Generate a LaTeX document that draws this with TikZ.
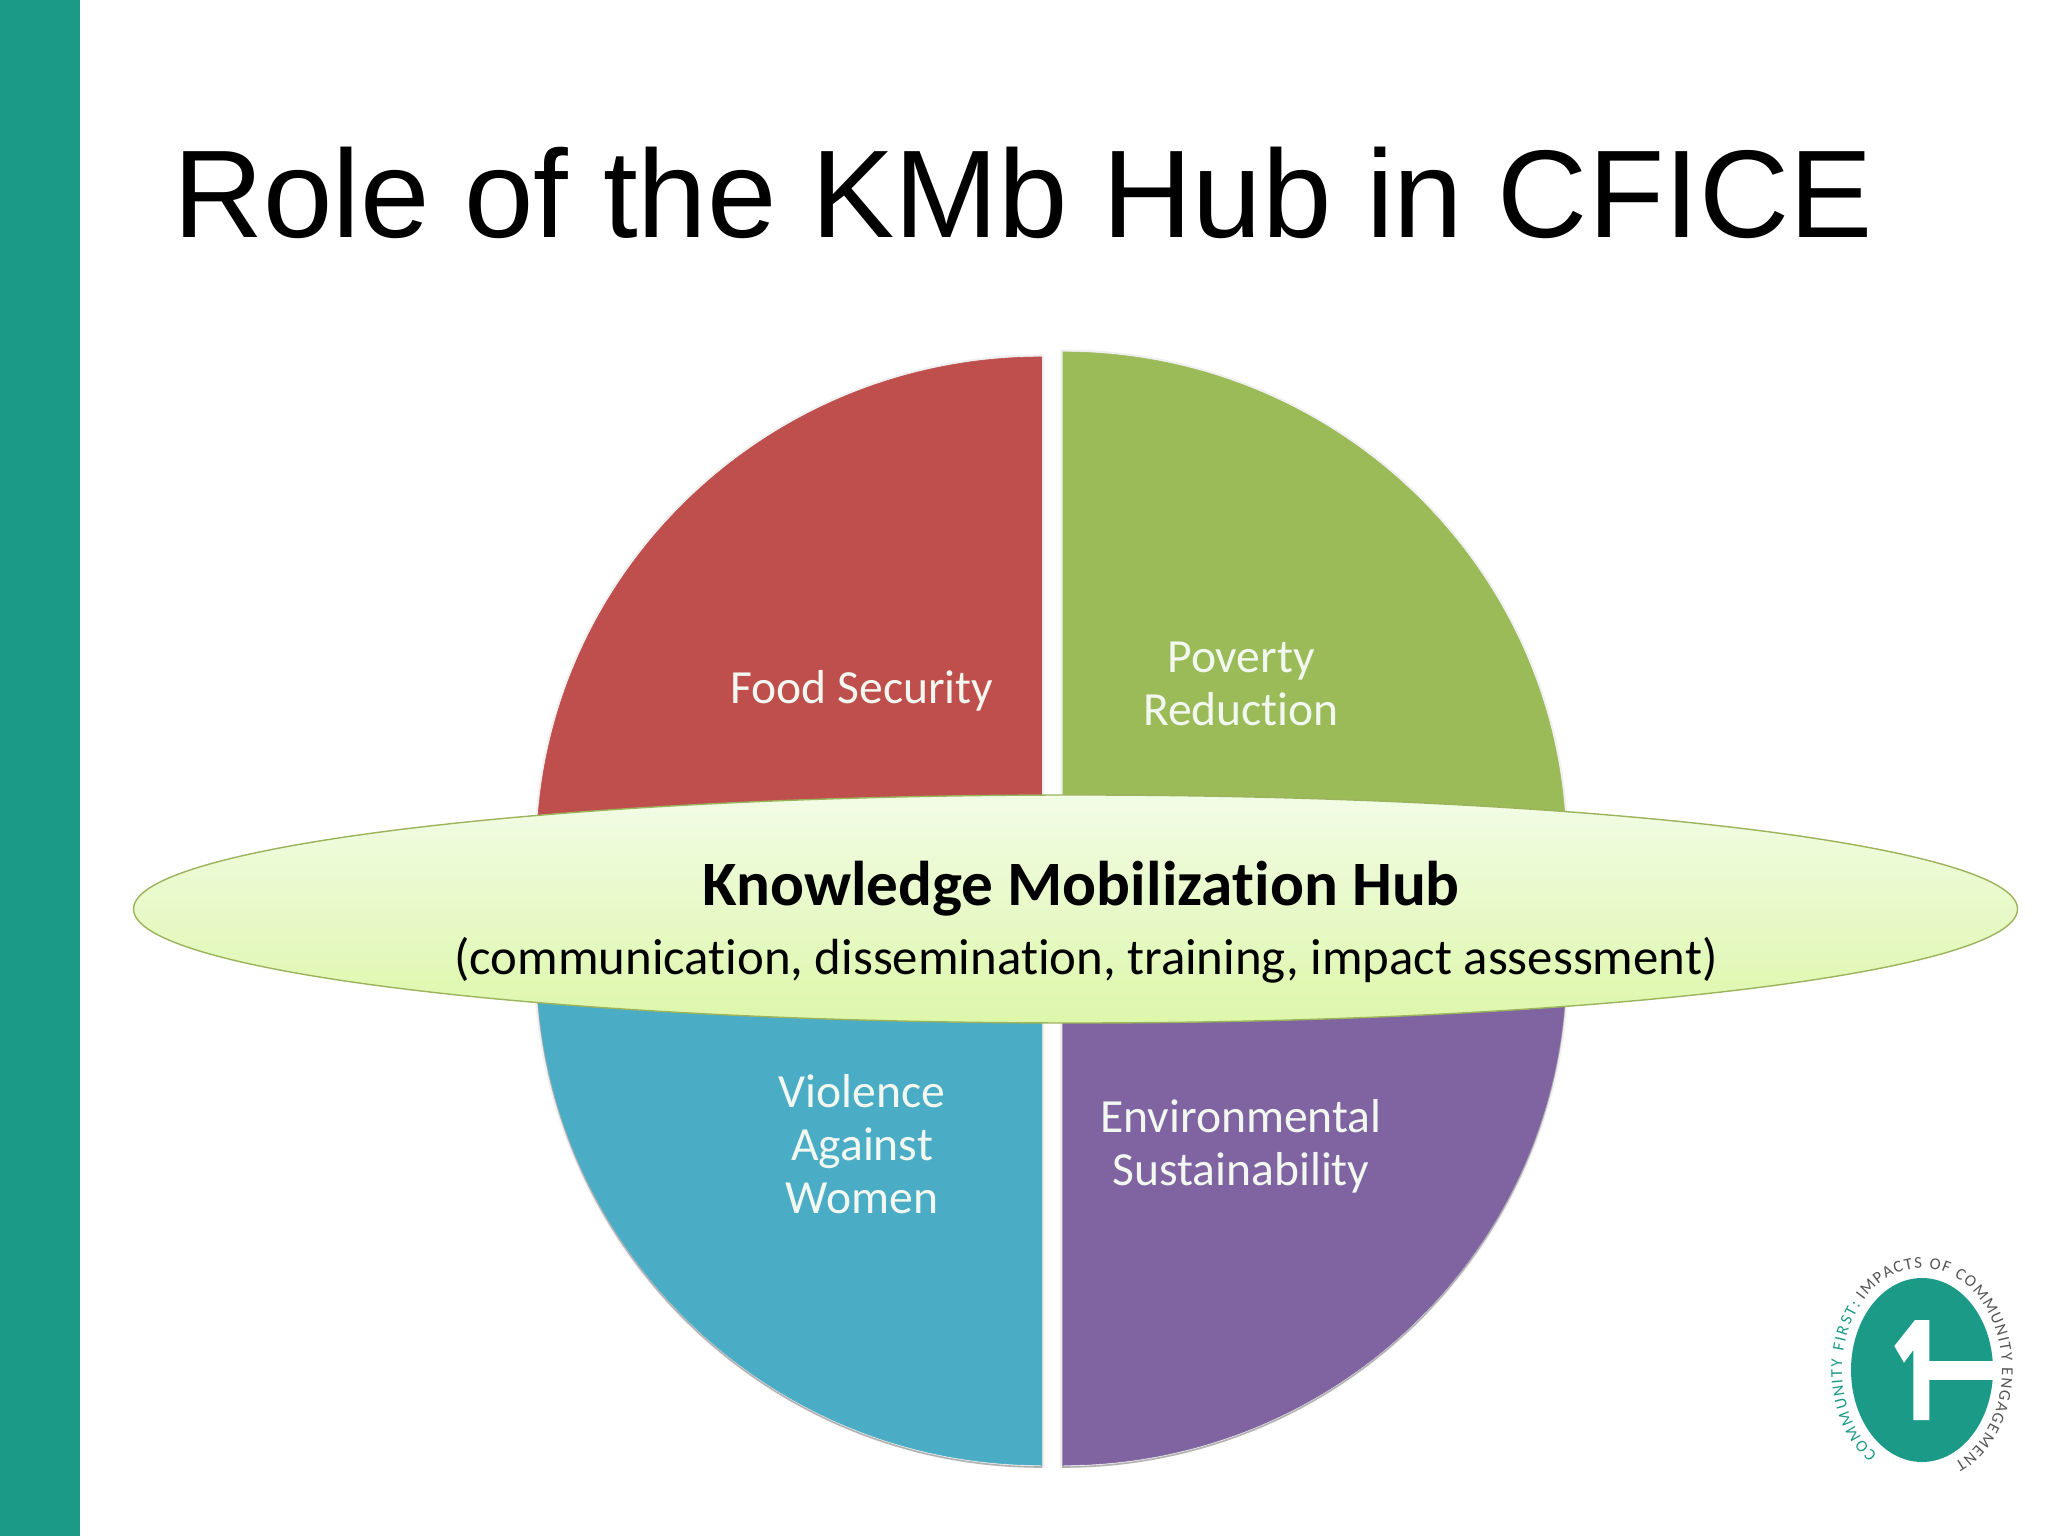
\documentclass[tikz,border=0pt]{standalone}
\usepackage{fontspec}
\setmainfont{Liberation Sans}
\newfontfamily\calfont[Ligatures=CommonOff]{Carlito}
\usetikzlibrary{decorations.text}
\definecolor{barteal}{HTML}{1B9A87}
\definecolor{qred}{HTML}{BE4F4D}
\definecolor{qgreen}{HTML}{9BBB59}
\definecolor{qblue}{HTML}{4BACC6}
\definecolor{qpurple}{HTML}{8064A2}
\definecolor{hubtop}{HTML}{F2FCE6}
\definecolor{hubbot}{HTML}{DDF7AA}
\definecolor{huboutline}{HTML}{9BB35A}
\definecolor{quadtext}{HTML}{F2F8F0}
\definecolor{logogray}{HTML}{555555}
\tikzset{
  quad/.style={fill=#1, draw=#1, line width=0.3pt, preaction={draw=black!6, line width=2.5pt}},
  quadlow/.style={fill=#1, draw=#1, line width=0.3pt, preaction={draw=black!6, line width=3pt},
    preaction={draw=black!30, line width=0.8pt, transform canvas={yshift=-1pt}}},
  quadlabel/.style={font=\calfont\fontsize{23.8}{26.5}\selectfont, text=quadtext, align=center, inner sep=0pt},
  logoarc/.style={decorate, decoration={text along path, text={#1}, text align={fit to path}}},
}
\newcommand{\lgteal}{\calfont\fontsize{8.3}{10}\selectfont\color{barteal}}
\newcommand{\lggray}{\calfont\fontsize{8.3}{10}\selectfont\color{logogray}}
\begin{document}
\begin{tikzpicture}[x=0.5pt,y=0.5pt]
\useasboundingbox (0,0) rectangle (2048,1536);
\fill[white] (0,0) rectangle (2048,1536);
\fill[barteal] (0,0) rectangle (80,1536);
\node[anchor=base, inner sep=0pt, font=\fontsize{62.4}{70}\selectfont] (title) at (1023,1298) {Role of the KMb Hub in CFICE};

% quadrants
\path[quad=qred] (1041.5,624) -- (536.5,624) -- (536.5,681) arc[start angle=180,end angle=90,x radius=505,y radius=498] -- cycle;
\path[quad=qgreen] (1063,624) -- (1063,1184) arc[start angle=90,end angle=0,x radius=503,y radius=498] -- (1566,624) -- cycle;
\path[quadlow=qblue] (1041.5,624) -- (1041.5,71) arc[start angle=270,end angle=180,x radius=505,y radius=505] -- (536.5,624) -- cycle;
\path[quadlow=qpurple] (1063,624) -- (1566,624) -- (1566,571) arc[start angle=0,end angle=-90,x radius=503,y radius=500] -- cycle;

\node[quadlabel] (food) at (862,845) {Food Security};
\node[quadlabel] (poverty) at (1241,852) {Poverty\\Reduction};
\node[quadlabel] (violence) at (862,392) {Violence\\Against\\Women};
\node[quadlabel] (env) at (1241,390) {Environmental\\Sustainability};

% hub ellipse
\path[draw=huboutline, line width=0.7pt, top color=hubtop, bottom color=hubbot] (1075.5,627) ellipse [x radius=942, y radius=114];
\node[inner sep=0pt, font=\calfont\bfseries\fontsize{31.6}{34}\selectfont, text=black] (hubtitle) at (1081,647) {Knowledge Mobilization Hub};
\node[inner sep=0pt, font=\calfont\fontsize{25.4}{28}\selectfont, text=black] (hubsub) at (1086,576) {(communication, dissemination, training, impact assessment)};

% logo
\fill[barteal] (1922,166) ellipse [x radius=71, y radius=92];
\fill[white] (1915,216) -- (1929.3,216) -- (1929.3,116) -- (1913.3,116) -- (1913.3,186) -- (1904,173.3) -- (1894.3,190) -- cycle;
\fill[white] (1929,156) rectangle (1994,175);
\path[logoarc={|\lgteal|COMMUNITY FIRST:}] (1922,166) ++(236:80 and 102) arc[start angle=236,end angle=140,x radius=80,y radius=102];
\path[logoarc={|\lggray|IMPACTS OF COMMUNITY ENGAGEMENT}] (1922,166) ++(137:80 and 102) arc[start angle=137,end angle=-66,x radius=80,y radius=102];
\end{tikzpicture}
\end{document}
